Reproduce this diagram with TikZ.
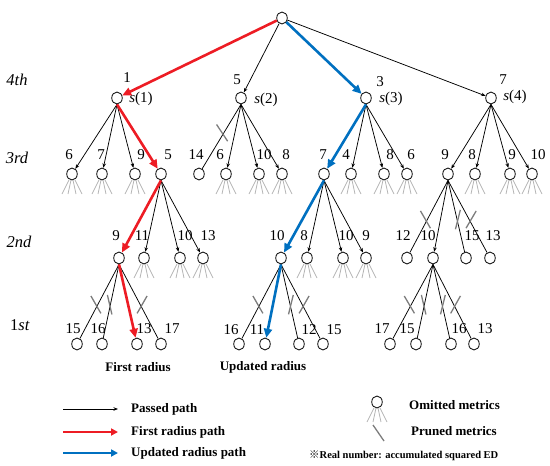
\documentclass[tikz,border=0pt]{standalone}
\usepackage{fontspec}
\setmainfont{Liberation Serif}
\newfontfamily\cjk{Noto Sans CJK SC}
\usetikzlibrary{arrows.meta,calc,shapes.geometric}
\definecolor{rpath}{RGB}{237,28,36}
\definecolor{bpath}{RGB}{0,112,192}
\definecolor{fangray}{RGB}{180,180,180}
\definecolor{prgray}{RGB}{125,125,125}
\tikzset{
 tnode/.style={ellipse, draw, line width=0.8pt, minimum width=10.5pt, minimum height=12pt, inner sep=0pt},
 num/.style={font=\fontsize{15}{15}\selectfont, inner sep=0pt},
 lvl/.style={font=\fontsize{16.5}{16.5}\selectfont, inner sep=0pt},
 pass/.style={line width=0.75pt, -{Stealth[length=4.5pt,width=3.5pt]}},
 prunededge/.style={line width=0.75pt},
 redp/.style={draw=rpath, line width=2.6pt, -{Triangle[length=9pt,width=8pt]}},
 bluep/.style={draw=bpath, line width=2.6pt, -{Triangle[length=9pt,width=8pt]}},
 fanline/.style={draw=fangray, line width=0.8pt},
 prunemk/.style={draw=prgray, line width=1.3pt},
 captxt/.style={font=\fontsize{13}{13}\selectfont\bfseries, inner sep=0pt},
}
\newcommand\T[3]{\node[tnode] (#1) at (#2,-#3) {};}
\newcommand\Lb[4]{\node[num] (#1) at (#2,-#3) {#4};}
\newcommand\fan[1]{\foreach \a/\b in {-3/-10,-1/-4,1/4,3/10}{\draw[fanline] ($(#1)+(\a,-6)$) -- ($(#1)+(\b,-20)$);}}
\newcommand\prune[3]{\draw[prunededge] (#1.south) -- (#2);
 \draw[prunemk] let \p1=($(#2.north)-(#1.south)$), \n1={veclen(\x1,\y1)}, \p2=($(#1.south)!#3!(#2.north)$) in
 ({\x2-10*(\x1)/\n1},{\y2+10*(\y1)/\n1}) -- ({\x2+10*(\x1)/\n1},{\y2-10*(\y1)/\n1});}
\begin{document}
\begin{tikzpicture}[x=1pt,y=1pt]
\useasboundingbox (0,0) rectangle (550,-466);
% level names
\node[lvl] (l4) at (17,-80) {\textit{4th}};
\node[lvl] (l3) at (17,-158) {\textit{3rd}};
\node[lvl] (l2) at (19,-242) {\textit{2nd}};
\node[lvl] (l1) at (20,-325) {1\textit{st}};
% root and level 4
\T{R}{282}{18}
\T{A1}{117}{98} \T{A2}{241}{98} \T{A3}{366}{98} \T{A4}{491}{98}
\Lb{nA1}{127}{78}{1} \Lb{nA2}{237}{80}{5} \Lb{nA3}{380}{82}{3} \Lb{nA4}{503}{80}{7}
\Lb{sA1}{141}{99}{\textit{s}(1)} \Lb{sA2}{266}{100}{\textit{s}(2)} \Lb{sA3}{391}{99}{\textit{s}(3)} \Lb{sA4}{515}{97}{\textit{s}(4)}
% level 3
\T{c11}{72}{174} \T{c12}{102}{174} \T{c13}{135}{174} \T{c14}{161}{174}
\T{c21}{199}{174} \T{c22}{226}{174} \T{c23}{259}{174} \T{c24}{282}{174}
\T{c31}{324}{174} \T{c32}{351}{174} \T{c33}{384}{174} \T{c34}{407}{174}
\T{c41}{448}{174} \T{c42}{475}{174} \T{c43}{510}{174} \T{c44}{532}{174}
\Lb{n11}{69}{155}{6} \Lb{n12}{101}{155}{7} \Lb{n13}{141}{155}{9} \Lb{n14}{168}{155}{5}
\Lb{n21}{196}{155}{14} \Lb{n22}{220}{155}{6} \Lb{n23}{264}{155}{10} \Lb{n24}{286}{155}{8}
\Lb{n31}{323}{155}{7} \Lb{n32}{346}{155}{4} \Lb{n33}{390}{155}{8} \Lb{n34}{411}{155}{6}
\Lb{n41}{445}{155}{9} \Lb{n42}{472}{155}{8} \Lb{n43}{512}{155}{9} \Lb{n44}{538}{155}{10}
% level 2
\T{d11}{119}{258} \T{d12}{144}{258} \T{d13}{180}{258} \T{d14}{203}{258}
\T{d21}{281}{258} \T{d22}{307}{258} \T{d23}{343}{258} \T{d24}{366}{258}
\T{d31}{407}{258} \T{d32}{433}{258} \T{d33}{466}{258} \T{d34}{490}{258}
\Lb{m11}{116}{236}{9} \Lb{m12}{142}{236}{11} \Lb{m13}{185}{236}{10} \Lb{m14}{208}{236}{13}
\Lb{m21}{277}{236}{10} \Lb{m22}{304}{236}{8} \Lb{m23}{346}{236}{10} \Lb{m24}{366}{236}{9}
\Lb{m31}{403}{236}{12} \Lb{m32}{428}{236}{10} \Lb{m33}{472}{236}{15} \Lb{m34}{493}{236}{13}
% level 1
\T{e11}{77}{344} \T{e12}{102}{344} \T{e13}{137}{344} \T{e14}{161}{344}
\T{e21}{239}{344} \T{e22}{265}{344} \T{e23}{299}{344} \T{e24}{323}{344}
\T{e31}{390}{344} \T{e32}{416}{344} \T{e33}{451}{344} \T{e34}{474}{344}
\Lb{k11}{73}{329}{15} \Lb{k12}{98}{329}{16} \Lb{k13}{144}{329}{13} \Lb{k14}{172}{329}{17}
\Lb{k21}{231}{330}{16} \Lb{k22}{257}{330}{11} \Lb{k23}{309}{330}{12} \Lb{k24}{334}{330}{15}
\Lb{k31}{382}{329}{17} \Lb{k32}{407}{329}{15} \Lb{k33}{459}{329}{16} \Lb{k34}{485}{329}{13}
% fans
\foreach \n in {c11,c12,c13,c22,c23,c24,c32,c33,c34,c42,c43,c44,d12,d13,d14,d22,d23,d24}{\fan{\n}}
% black passed edges
\draw[pass] (R) -- (A2);
\draw[pass] (R) -- (A4);
\foreach \c in {c11,c12,c13}{\draw[pass] (A1.south) -- (\c);}
\foreach \c in {c22,c23,c24}{\draw[pass] (A2.south) -- (\c);}
\foreach \c in {c32,c33,c34}{\draw[pass] (A3.south) -- (\c);}
\foreach \c in {c41,c42,c43,c44}{\draw[pass] (A4.south) -- (\c);}
\foreach \c in {d12,d13,d14}{\draw[pass] (c14.south) -- (\c);}
\foreach \c in {d22,d23,d24}{\draw[pass] (c31.south) -- (\c);}
\draw[pass] (c41.south) -- (d32);
% pruned edges
\prune{A2}{c21}{0.45}
\prune{c41}{d31}{0.55}
\prune{c41}{d33}{0.55}
\prune{c41}{d34}{0.55}
\prune{d11}{e11}{0.55}
\prune{d11}{e12}{0.55}
\prune{d11}{e14}{0.55}
\prune{d21}{e21}{0.55}
\prune{d21}{e23}{0.55}
\prune{d21}{e24}{0.55}
\prune{d32}{e31}{0.55}
\prune{d32}{e32}{0.55}
\prune{d32}{e33}{0.55}
\prune{d32}{e34}{0.55}
% red path
\draw[redp] (R) -- (A1);
\draw[redp] (A1.south) -- (c14);
\draw[redp] (c14.south) -- (d11);
\draw[redp] (d11.south) -- (e13);
% blue path
\draw[bluep] (R) -- (A3);
\draw[bluep] (A3.south) -- (c31);
\draw[bluep] (c31.south) -- (d21);
\draw[bluep] (d21.south) -- (e22);
% captions
\node[captxt] (fr) at (138,-367) {First radius};
\node[captxt] (ur) at (263,-367) {Updated radius};
% legend
\coordinate (la1) at (63,-409); \coordinate (lb1) at (118,-409);
\coordinate (la2) at (63,-432); \coordinate (lb2) at (118,-432);
\coordinate (la3) at (63,-453); \coordinate (lb3) at (118,-453);
\draw[pass] (la1) -- (lb1);
\draw[redp,line width=2.4pt,-{Triangle[length=7pt,width=7pt]}] (la2) -- (lb2);
\draw[bluep,line width=2.4pt,-{Triangle[length=7pt,width=7pt]}] (la3) -- (lb3);
\node[captxt,anchor=west] (t1) at (131,-409) {Passed path};
\node[captxt,anchor=west] (t2) at (131,-432) {First radius path};
\node[captxt,anchor=west] (t3) at (131,-453) {Updated radius path};
\node[tnode] (lgc) at (377,-402) {};
\fan{lgc}
\coordinate (lps1) at (373,-425); \coordinate (lps2) at (384,-441);
\draw[prunemk] (lps1) -- (lps2);
\node[captxt,anchor=west] (t4) at (409,-405) {Omitted metrics};
\node[captxt,anchor=west] (t5) at (411,-431) {Pruned metrics};
\node[font=\fontsize{10.5}{10.5}\selectfont\bfseries, inner sep=0pt, anchor=west] (t6) at (309,-456) {{\cjk ※}Real number: accumulated squared ED};
\end{tikzpicture}
\end{document}
